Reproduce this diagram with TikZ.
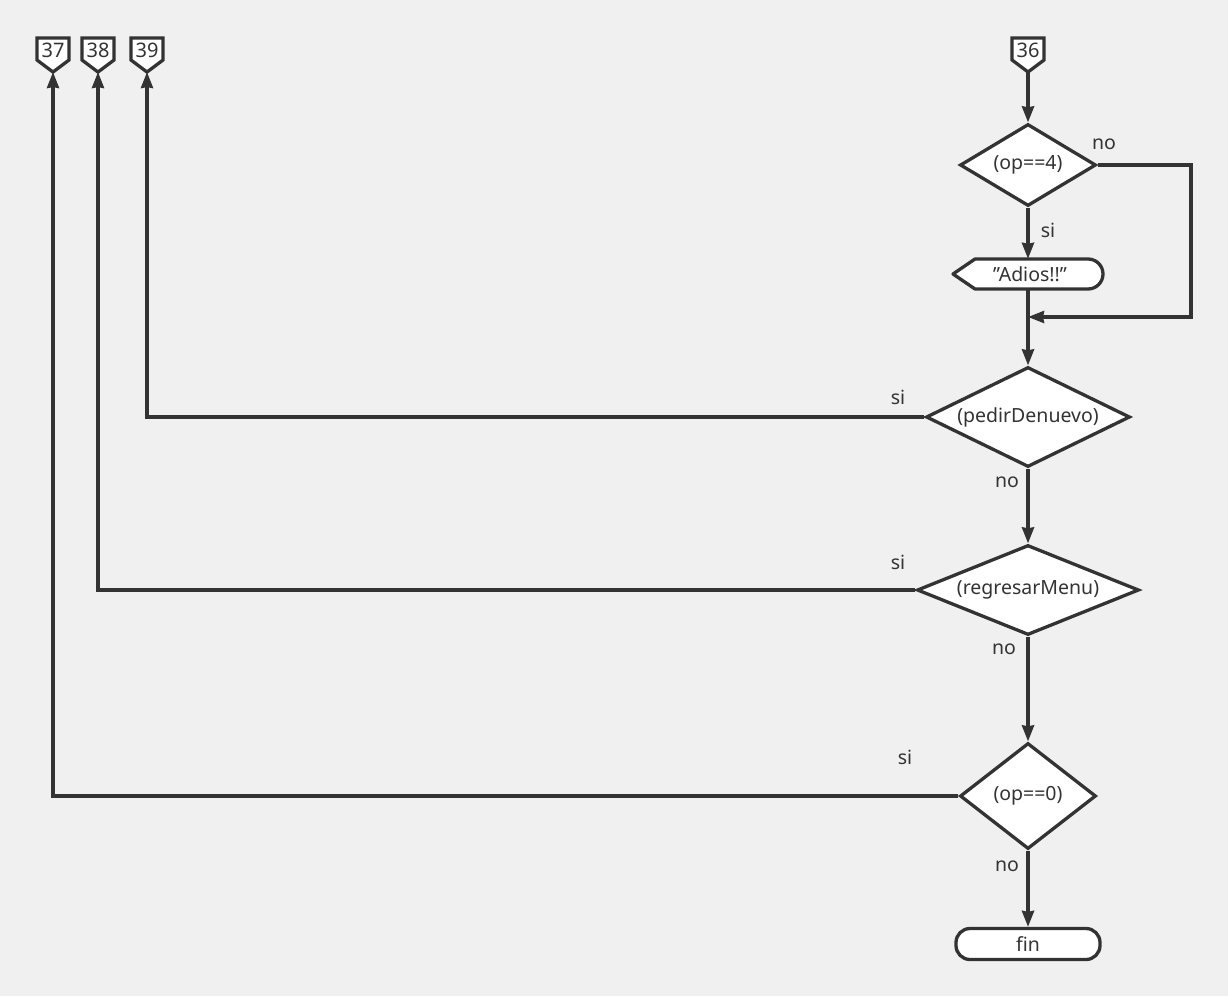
\documentclass[tikz,border=0pt]{standalone}
\usepackage{fontspec}
\setmainfont{Noto Sans}[Ligatures=NoCommon]
\usetikzlibrary{shapes.geometric,arrows.meta}
\definecolor{ln}{HTML}{333333}
\definecolor{bg}{HTML}{F0F0F0}
\begin{document}
\begin{tikzpicture}[x=1pt,y=-1pt,
  every node/.style={font=\fontsize{19.5}{22}\selectfont,text=ln},
  line/.style={draw=ln,line width=3.3pt},
  arr/.style={line,-{Stealth[length=16pt,width=12pt,inset=1pt]}},
  dia/.style={diamond,line,fill=white,inner sep=0pt}]
\fill[bg] (0,0) rectangle (1228,996);
\useasboundingbox (0,0) rectangle (1228,996);
% off-page connectors
\foreach \n/\x in {37/53,38/98,39/147,36/1028}{
  \draw[line,fill=white,line join=miter] (\x-16,38) -- (\x+16,38) -- (\x+16,60) -- (\x,72) -- (\x-16,60) -- cycle;
  \node[inner sep=0pt,font=\fontsize{20}{22}\selectfont] at (\x,50) {\n};
  \coordinate (c\n) at (\x,72);
}
\node[dia,minimum width=136pt,minimum height=82pt,shape aspect=1.66] (d1) at (1028,165) {(op==4)};
\node[inner sep=0pt,minimum width=150pt,minimum height=30pt] (adios) at (1028,274) {};
\draw[line,fill=white,line join=round] (953,274) -- (975,259) -- (1088,259) arc (-90:90:15) -- (975,289) -- cycle;
\node at (1030,274) {\char"22 Adios!!\char"22};
\coordinate (join) at (1028,317);
\node[dia,minimum width=204pt,minimum height=100pt,shape aspect=2.04] (d2) at (1028,417) {(pedirDenuevo)};
\node[dia,minimum width=222pt,minimum height=90pt,shape aspect=2.47] (d3) at (1028,590) {(regresarMenu)};
\node[dia,minimum width=136pt,minimum height=106pt,shape aspect=1.28] (d4) at (1028,796) {(op==0)};
\node[line,fill=white,rounded corners=14pt,minimum width=144pt,minimum height=31pt,inner sep=0pt] (fin) at (1028,944) {fin};
% connectors
\draw[arr] (c36) -- (d1.north);
\draw[arr] (d1.south) -- (adios.north);
\draw[arr] (d1.east) -- (1191,165) |- (join);
\draw[arr] (adios.south) -- (d2.north);
\draw[arr] (d2.west) -| (c39);
\draw[arr] (d2.south) -- (d3.north);
\draw[arr] (d3.west) -| (c38);
\draw[arr] (d3.south) -- (d4.north);
\draw[arr] (d4.west) -| (c37);
\draw[arr] (d4.south) -- (fin.north);
% labels
\node at (1104,144) {no};
\node at (1048,230) {si};
\node at (898,397) {si};
\node at (1007,482) {no};
\node at (898,562) {si};
\node at (1004,649) {no};
\node at (905,757) {si};
\node at (1007,866) {no};
\end{tikzpicture}
\end{document}
